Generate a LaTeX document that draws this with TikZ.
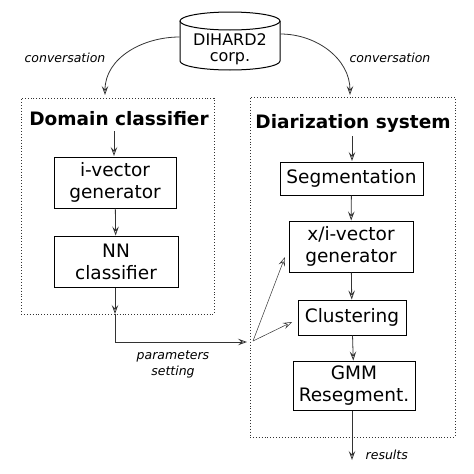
\documentclass[tikz,border=0pt]{standalone}
\usepackage{fontspec}
\setmainfont{DejaVu Sans}
\usetikzlibrary{shapes.geometric,arrows.meta}
\begin{document}
\begin{tikzpicture}[x=1pt,y=-1pt,
  line width=0.8pt, draw=black!80,
  arr/.style={-{Stealth[length=9pt,width=6.5pt,inset=3.5pt,open]}, draw=black!80, line width=0.8pt},
  blk/.style={draw=black, line width=1pt, align=center, font=\fontsize{18.5}{22}\selectfont, inner sep=0pt},
  frame/.style={draw=black!80, dotted, line width=0.9pt},
  ttl/.style={font=\fontsize{18.5}{22}\selectfont\bfseries},
  lbl/.style={font=\fontsize{12.5}{16}\selectfont\itshape, align=center}]
\useasboundingbox (0,0) rectangle (474,474);
% database
\draw[draw=black, line width=1pt, fill=white]
  (180,21) -- (180,61) arc[start angle=180, end angle=360, x radius=50pt, y radius=9pt] -- (280,21);
\draw[draw=black, line width=1pt] (230,21) ellipse[x radius=50pt, y radius=9pt];
\node[minimum width=100pt, inner sep=0pt, align=center,
  font=\fontsize{16}{16.5}\selectfont] (db) at (230,49) {DIHARD2\\corp.};
% frames
\node[frame, minimum width=193pt, minimum height=216pt, inner sep=0pt] (lf) at (117.5,206) {};
\node[frame, minimum width=205pt, minimum height=340pt, inner sep=0pt] (rf) at (352.5,267) {};
\node[ttl] (lt) at (119,119) {Domain classifier};
\node[ttl] (rt) at (353,123) {Diarization system};
% left blocks
\node[blk, minimum width=122pt, minimum height=51pt] (iv) at (115,182.5) {i-vector\\generator};
\node[blk, minimum width=124pt, minimum height=51pt] (nn) at (116,261.5) {NN\\classifier};
% right blocks
\node[blk, minimum width=143pt, minimum height=33pt] (seg) at (351.5,178.5) {Segmentation};
\node[blk, minimum width=124pt, minimum height=51pt] (xv) at (351,246.5) {x/i-vector\\generator};
\node[blk, minimum width=108pt, minimum height=35pt] (cl) at (352,317.5) {Clustering};
\node[blk, minimum width=122pt, minimum height=49pt] (gmm) at (354,385.5) {GMM\\Resegment.};
% labels
\node[lbl] (c1) at (65,58) {conversation};
\node[lbl] (c2) at (390,58) {conversation};
\node[lbl] (ps) at (173,364) {parameters\\setting};
\node[lbl, anchor=west] (res) at (362,455) {results};
% coordinates
\coordinate (a1) at (105,95);
\coordinate (a2) at (350,95);
\coordinate (lt1) at (114,131);
\coordinate (lt2) at (114,156);
\coordinate (rt1) at (352,136);
\coordinate (rt2) at (352,161);
\coordinate (nnb) at (115,314);
\coordinate (cor) at (115,342);
\coordinate (hub) at (247,342);
\coordinate (hub2) at (253,341);
\coordinate (xvt) at (285,257);
\coordinate (clt) at (292,322);
\coordinate (out) at (352,460);
% connectors
\draw[arr] (db.west |- 0,37) to[out=180,in=90] (a1);
\draw[arr] (db.east |- 0,34) to[out=0,in=90] (a2);
\draw[arr] (lt1) -- (lt2);
\draw[arr] (rt1) -- (rt2);
\draw[arr] (iv) -- (nn);
\draw[arr] (nn.south -| nnb) -- (nnb);
\draw[draw=black!80] (nnb) -- (cor);
\draw[arr] (cor) -- (hub);
\draw[arr, line width=0.5pt] (hub2) -- (xvt);
\draw[arr, line width=0.5pt] (hub2) -- (clt);
\draw[arr] (seg) -- (xv);
\draw[arr] (xv) -- (cl);
\draw[arr] (cl) -- (gmm);
\draw[arr] (gmm.south -| out) -- (out);
\end{tikzpicture}
\end{document}
